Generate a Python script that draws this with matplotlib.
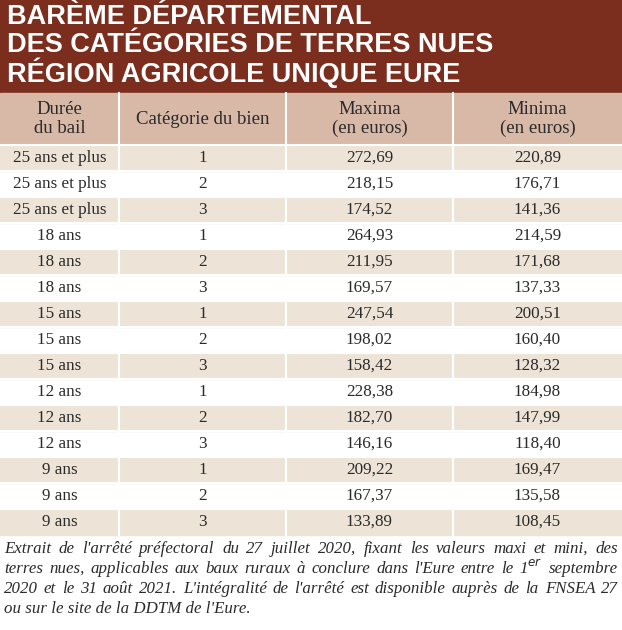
import matplotlib.pyplot as plt
from matplotlib.patches import Rectangle

durees = ["25 ans et plus"] * 3 + ["18 ans"] * 3 + ["15 ans"] * 3 + ["12 ans"] * 3 + ["9 ans"] * 3
categories = [1, 2, 3] * 5
maxima = ["272,69", "218,15", "174,52", "264,93", "211,95", "169,57", "247,54", "198,02", "158,42",
          "228,38", "182,70", "146,16", "209,22", "167,37", "133,89"]
minima = ["220,89", "176,71", "141,36", "214,59", "171,68", "137,33", "200,51", "160,40", "128,32",
          "184,98", "147,99", "118,40", "169,47", "135,58", "108,45"]
headers = ["Durée\ndu bail", "Catégorie du bien", "Maxima\n(en euros)", "Minima\n(en euros)"]
title = ["BARÈME DÉPARTEMENTAL", "DES CATÉGORIES DE TERRES NUES", "RÉGION AGRICOLE UNIQUE EURE"]
caption = ["Extrait de l'arrêté préfectoral du 27 juillet 2020, fixant les valeurs maxi et mini, des",
           "terres nues, applicables aux baux ruraux à conclure dans l'Eure entre le 1$^{er}$ septembre",
           "2020 et le 31 août 2021. L'intégralité de l'arrêté est disponible auprès de la FNSEA 27",
           "ou sur le site de la DDTM de l'Eure."]

W, H = 622, 630
fig = plt.figure(figsize=(6.22, 6.30), dpi=100)
ax = fig.add_axes([0, 0, 1, 1])
ax.set_xlim(0, W)
ax.set_ylim(H, 0)
ax.axis("off")

# title band
ax.add_patch(Rectangle((0, 0), W, 93, color="#7b2e1e"))
for i, line in enumerate(title):
    ax.text(7, 17 + i * 28, line, color="white", fontsize=19.5, fontweight="bold",
            family="Liberation Sans", va="center", ha="left")

col_edges = [0, 119, 286, 453, W]
centers = [(a + b) / 2 for a, b in zip(col_edges[:-1], col_edges[1:])]

# header row
ax.add_patch(Rectangle((0, 93), W, 52, color="#d8b8a6"))
for c, h in zip(centers, headers):
    ax.text(c, 119, h, ha="center", va="center", fontsize=13.5, family="Liberation Serif",
            color="#2a2a2a", linespacing=1.1)

row_h = 26
y0 = 145
for i in range(len(durees)):
    y = y0 + i * row_h
    if i % 2 == 0:
        ax.add_patch(Rectangle((0, y), W, row_h, color="#ede4d7"))
    vals = [durees[i], str(categories[i]), maxima[i], minima[i]]
    for c, v in zip(centers, vals):
        ax.text(c, y + row_h / 2, v, ha="center", va="center", fontsize=12.3,
                family="Liberation Serif", color="#2a2a2a")
    ax.plot([0, W], [y, y], color="white", lw=1.5)

for x in col_edges[1:-1]:
    ax.plot([x, x], [93, y0 + len(durees) * row_h], color="white", lw=1.5)

# caption, justified between x=4 and x=618 except last line
renderer = fig.canvas.get_renderer()
left, right = 4, 618
for i, line in enumerate(caption):
    y = 549 + i * 20
    words = line.split(" ")
    kw = dict(ha="left", va="center", fontsize=12.2, style="italic",
              family="Liberation Serif", color="#2a2a2a")
    if i == len(caption) - 1:
        ax.text(left, y, line, **kw)
        continue
    arts = [ax.text(0, y, w, **kw) for w in words]
    widths = [a.get_window_extent(renderer).width for a in arts]
    gap = (right - left - sum(widths)) / (len(words) - 1)
    x = left
    for a, w in zip(arts, widths):
        a.set_x(x)
        x += w + gap

fig.savefig("out.png", dpi=100)
